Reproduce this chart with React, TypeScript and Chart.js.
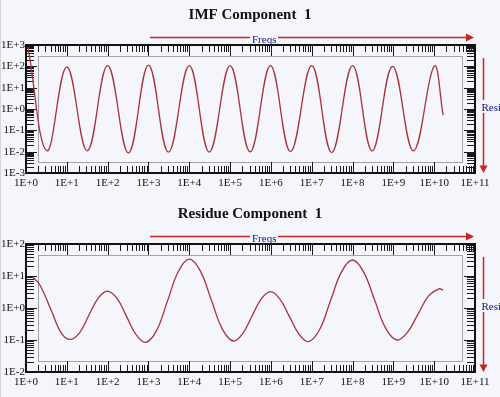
import React, { useEffect, useRef } from 'react';
import { Chart, registerables } from 'chart.js';

Chart.register(...registerables);

// ---- tick decades and labels ----
const X_DECADES = [1, 1e1, 1e2, 1e3, 1e4, 1e5, 1e6, 1e7, 1e8, 1e9, 1e10, 1e11];
const X_TICK_LABELS = ['1E+0', '1E+1', '1E+2', '1E+3', '1E+4', '1E+5', '1E+6', '1E+7', '1E+8', '1E+9', '1E+10', '1E+11'];
const IMF_Y_DECADES = [1e-3, 1e-2, 1e-1, 1, 1e1, 1e2, 1e3];
const IMF_Y_TICK_LABELS = ['1E-3', '1E-2', '1E-1', '1E+0', '1E+1', '1E+2', '1E+3'];
const RES_Y_DECADES = [1e-2, 1e-1, 1, 1e1, 1e2];
const RES_Y_TICK_LABELS = ['1E-2', '1E-1', '1E+0', '1E+1', '1E+2'];
const MINOR_STEPS = [2, 3, 4, 5, 6, 7, 8, 9];

// ---- IMF Component 1 (start, troughs/peaks, end) ----
const IMF_FREQ = [1.12, 3.24, 10, 31.6, 100, 324, 1e3, 3.09e3, 1e4, 3.09e4, 1e5, 3.09e5, 9.77e5, 3.02e6, 1e7,
  3.09e7, 1e8, 3.02e8, 9.55e8, 3.09e9, 1e10, 1.66e10];
const IMF_VALUE = [794, 0.011, 95, 0.011, 107, 0.0087, 115, 0.0095, 107, 0.0095, 107, 0.0098, 107, 0.01, 107,
  0.0091, 107, 0.011, 100, 0.011, 102, 0.51];

// ---- Residue Component 1 ----
const RES_FREQ = [1.45, 2.19, 4.27, 7.41, 12.4, 20.9, 34.7, 58.9, 97.7, 170, 292, 501, 871, 1600, 2950, 5430,
  1e4, 1.86e4, 3.47e4, 6.46e4, 1.2e5, 2.04e5, 3.43e5, 5.75e5, 9.77e5, 1.66e6, 2.85e6, 4.9e6, 8.32e6, 1.55e7,
  2.88e7, 5.37e7, 1e8, 1.86e8, 3.47e8, 6.46e8, 1.2e9, 2.19e9, 3.98e9, 7.24e9, 1.32e10, 1.66e10];
const RES_VALUE = [9.33, 5.25, 0.776, 0.162, 0.105, 0.174, 0.596, 2.04, 3.39, 2.0, 0.537, 0.145, 0.085, 0.204,
  1.7, 14.1, 33.9, 14.5, 1.78, 0.219, 0.093, 0.159, 0.55, 1.9, 3.24, 1.9, 0.537, 0.151, 0.089, 0.209, 1.68, 13.5,
  31.6, 13.5, 1.78, 0.234, 0.1, 0.17, 0.63, 2.34, 3.98, 3.63];

const BG = '#f4f6fb';
const RED = '#cc2222';
const NAVY = '#101080';
const CURVE = '#a8323a';
const SERIF = '"Liberation Serif", "Times New Roman", serif';

function buildTicks(decades: number[]) {
  const out: { value: number }[] = [];
  decades.forEach((d, i) => {
    out.push({ value: d });
    if (i < decades.length - 1) MINOR_STEPS.forEach((m) => out.push({ value: d * m }));
  });
  return out;
}

function labelFor(v: number, decades: number[], labels: string[]) {
  const idx = decades.findIndex((d) => Math.abs(Math.log10(v) - Math.log10(d)) < 1e-6);
  return idx >= 0 ? labels[idx] : '';
}

function makeDecor(title: string) {
  return {
    id: 'decor',
    beforeDraw(chart: any) {
      const { ctx, width, height } = chart;
      ctx.save();
      ctx.fillStyle = BG;
      ctx.fillRect(0, 0, width, height);
      ctx.fillStyle = '#d3d6dc';
      ctx.fillRect(0, 0, 1, height);
      ctx.restore();
    },
    beforeDatasetsDraw(chart: any) {
      const { ctx } = chart;
      const a = chart.chartArea;
      const xs = chart.scales.x;
      const ys = chart.scales.y;
      ctx.save();
      // dotted inner box
      ctx.strokeStyle = '#555';
      ctx.lineWidth = 1;
      ctx.setLineDash([1, 1]);
      ctx.strokeRect(a.left + 12.5, a.top + 11.5, a.right - a.left - 25, a.bottom - a.top - 22);
      ctx.setLineDash([]);
      // ticks
      ctx.strokeStyle = '#1a1a1a';
      ctx.lineWidth = 1;
      ctx.beginPath();
      for (const t of xs.ticks) {
        const px = Math.round(xs.getPixelForValue(t.value)) + 0.5;
        const len = t.label ? 11 : 7;
        ctx.moveTo(px, a.top);
        ctx.lineTo(px, a.top + len);
        ctx.moveTo(px, a.bottom);
        ctx.lineTo(px, a.bottom - len);
      }
      for (const t of ys.ticks) {
        const py = Math.round(ys.getPixelForValue(t.value)) + 0.5;
        const len = t.label ? 11 : 8;
        ctx.moveTo(a.left, py);
        ctx.lineTo(a.left + len, py);
        ctx.moveTo(a.right, py);
        ctx.lineTo(a.right - len, py);
      }
      ctx.stroke();
      // frame
      ctx.lineWidth = 2;
      ctx.strokeStyle = '#111';
      ctx.strokeRect(a.left, a.top, a.right - a.left, a.bottom - a.top);

      // title
      ctx.fillStyle = '#111';
      ctx.font = `bold 15px ${SERIF}`;
      ctx.textAlign = 'center';
      ctx.textBaseline = 'alphabetic';
      ctx.fillText(title, 250, 19);

      // Freqs arrow
      ctx.strokeStyle = RED;
      ctx.fillStyle = RED;
      ctx.lineWidth = 1.5;
      ctx.beginPath();
      ctx.moveTo(150, 37.5);
      ctx.lineTo(a.right - 8, 37.5);
      ctx.stroke();
      ctx.beginPath();
      ctx.moveTo(a.right - 1, 37.5);
      ctx.lineTo(a.right - 9, 33.5);
      ctx.lineTo(a.right - 9, 41.5);
      ctx.closePath();
      ctx.fill();
      ctx.fillStyle = BG;
      ctx.fillRect(250, 31, 28, 12);
      ctx.fillStyle = NAVY;
      ctx.font = `11px ${SERIF}`;
      ctx.textAlign = 'left';
      ctx.fillText('Freqs', 252, 42.5);

      // Resi arrow
      ctx.strokeStyle = RED;
      ctx.fillStyle = RED;
      ctx.beginPath();
      ctx.moveTo(483.5, 58);
      ctx.lineTo(483.5, a.bottom - 6);
      ctx.stroke();
      ctx.beginPath();
      ctx.moveTo(483.5, a.bottom);
      ctx.lineTo(479.5, a.bottom - 7.5);
      ctx.lineTo(487.5, a.bottom - 7.5);
      ctx.closePath();
      ctx.fill();
      ctx.fillStyle = BG;
      ctx.fillRect(479, 100, 21, 13);
      ctx.fillStyle = NAVY;
      ctx.fillText('Resi', 481.5, 110.5);
      ctx.restore();
    },
  };
}

type PanelProps = {
  title: string;
  freq: number[];
  value: number[];
  yDecades: number[];
  yLabels: string[];
  height: number;
};

function Panel({ title, freq, value, yDecades, yLabels, height }: PanelProps) {
  const ref = useRef<HTMLCanvasElement | null>(null);
  useEffect(() => {
    if (!ref.current) return;
    const tickFont = { family: SERIF, size: 11 };
    const chart = new Chart(ref.current, {
      type: 'line',
      data: {
        datasets: [
          {
            data: freq.map((f, i) => ({ x: f, y: value[i] })),
            borderColor: CURVE,
            borderWidth: 1.3,
            pointRadius: 0,
            tension: 0.4,
            fill: false,
          },
        ],
      },
      options: {
        responsive: false,
        animation: false,
        events: [],
        layout: { padding: { top: 45, right: 25, left: 0, bottom: 0 }, autoPadding: false },
        plugins: { legend: { display: false }, tooltip: { enabled: false }, title: { display: false } },
        scales: {
          x: {
            type: 'logarithmic',
            position: 'bottom',
            min: X_DECADES[0],
            max: X_DECADES[X_DECADES.length - 1],
            grid: { display: false, drawTicks: false },
            border: { display: false },
            afterBuildTicks: (s: any) => {
              s.ticks = buildTicks(X_DECADES);
            },
            afterFit: (s: any) => {
              s.height = height - 173;
            },
            ticks: {
              autoSkip: false,
              maxRotation: 0,
              minRotation: 0,
              padding: 4,
              color: '#111',
              font: tickFont,
              callback: (v: any) => labelFor(Number(v), X_DECADES, X_TICK_LABELS),
            },
          },
          y: {
            type: 'logarithmic',
            min: yDecades[0],
            max: yDecades[yDecades.length - 1],
            grid: { display: false, drawTicks: false },
            border: { display: false },
            afterBuildTicks: (s: any) => {
              s.ticks = buildTicks(yDecades);
            },
            afterFit: (s: any) => {
              s.width = 26;
            },
            ticks: {
              autoSkip: false,
              padding: 1,
              color: '#111',
              font: tickFont,
              callback: (v: any) => labelFor(Number(v), yDecades, yLabels),
            },
          },
        },
      } as any,
      plugins: [makeDecor(title)],
    });
    return () => chart.destroy();
  }, [title, freq, value, yDecades, yLabels, height]);
  return <canvas ref={ref} width={500} height={height} style={{ display: 'block' }} />;
}

export default function App() {
  useEffect(() => {
    document.body.style.margin = '0';
    document.body.style.background = BG;
  }, []);
  return (
    <div style={{ width: 500, background: BG }}>
      <Panel
        title="IMF Component  1"
        freq={IMF_FREQ}
        value={IMF_VALUE}
        yDecades={IMF_Y_DECADES}
        yLabels={IMF_Y_TICK_LABELS}
        height={199}
      />
      <Panel
        title="Residue Component  1"
        freq={RES_FREQ}
        value={RES_VALUE}
        yDecades={RES_Y_DECADES}
        yLabels={RES_Y_TICK_LABELS}
        height={198}
      />
    </div>
  );
}
